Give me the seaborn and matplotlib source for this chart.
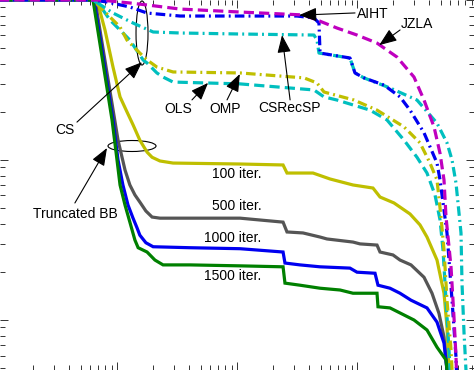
import matplotlib
matplotlib.use("Agg")
import matplotlib.pyplot as plt
from matplotlib.patches import Ellipse
from matplotlib.ticker import LogLocator, NullFormatter
import seaborn as sns

sns.set_theme(style="white")
plt.rcParams["font.family"] = ["Liberation Sans", "DejaVu Sans"]

# ---------------- data ----------------
# Truncated BB, 100 iterations (yellow solid)
bb100_x = [1, 6.81, 7.94, 9.26, 10.6, 12.1, 13.6, 15.5, 17.8, 19.6, 22.8, 29.3, 106, 242, 261, 430, 596,
           926, 1359, 1555, 2033, 2766, 3350, 3831, 4642, 5309, 5623, 5843, 5957]
bb100_y = [1, 1, 0.649, 0.381, 0.248, 0.2, 0.166, 0.133, 0.112, 0.104, 0.0986, 0.0957, 0.0944, 0.0931, 0.0829,
           0.0829, 0.0761, 0.0698, 0.0668, 0.0587, 0.0539, 0.046, 0.0393, 0.033, 0.0237, 0.0147, 0.00905,
           0.00487, 0.0042]

# Truncated BB, 500 iterations (gray solid)
bb500_x = [1, 6.56, 10.2, 11.66, 12.8, 14.1, 15.5, 17.4, 19.6, 22.8, 106, 242, 261, 355, 492, 562, 926, 1059,
           1468, 1555, 1995, 2282, 2818, 3617, 4217, 4821, 5309, 5623, 5733]
bb500_y = [1, 1, 0.133, 0.0866, 0.0698, 0.0605, 0.0546, 0.048, 0.044, 0.0433, 0.0433, 0.0409, 0.0355, 0.035,
           0.033, 0.0321, 0.0307, 0.0299, 0.0294, 0.0266, 0.0255, 0.0237, 0.0221, 0.0185, 0.0147, 0.011,
           0.00783, 0.00487, 0.0039]

# Truncated BB, 1000 iterations (blue solid)
bb1000_x = [1, 6.43, 9.26, 10.2, 11.2, 12.35, 13.6, 14.7, 15.5, 17.4, 20, 40.6, 106, 242, 251, 335, 492, 874,
            1000, 1413, 1496, 1884, 2282, 2818, 3831, 4642, 5309, 5623, 5733]
bb1000_y = [1, 1, 0.178, 0.1, 0.0698, 0.0523, 0.0433, 0.0376, 0.0339, 0.0304, 0.0287, 0.0283, 0.0279, 0.0266,
            0.0227, 0.0221, 0.0215, 0.0211, 0.0199, 0.0196, 0.0165, 0.0158, 0.0147, 0.0133, 0.0119, 0.0097,
            0.00718, 0.00487, 0.0039]

# Truncated BB, 1500 iterations (green solid)
bb1500_x = [1, 6.31, 9.09, 10, 10.6, 11.66, 12.8, 14.1, 15.0, 17.8, 20.7, 24.2, 40.6, 106, 242, 251, 335, 492,
            722, 926, 1468, 1496, 1884, 2985, 3831, 4642, 5519, 5623, 5733]
bb1500_y = [1, 1, 0.178, 0.1, 0.0698, 0.0523, 0.0409, 0.0316, 0.0283, 0.0266, 0.0237, 0.0221, 0.0221, 0.0218,
            0.0215, 0.017, 0.0165, 0.0158, 0.0154, 0.0147, 0.0147, 0.0121, 0.0119, 0.01, 0.00866, 0.00676,
            0.00562, 0.00487, 0.0039]

# JZLA (magenta dashed)
jzla_x = [1, 7.22, 12.8, 17.8, 33.5, 106, 362, 464, 681, 1000, 1468, 2154, 2985, 3617, 4385, 4921, 5309, 5519,
          6073, 6430, 6683, 6813]
jzla_y = [1, 1, 0.958, 0.931, 0.878, 0.841, 0.806, 0.75, 0.668, 0.604, 0.538, 0.44, 0.33, 0.237, 0.161, 0.11,
          0.075, 0.044, 0.0215, 0.0104, 0.00587, 0.0039]

# AIHT (blue dash-dot)
aiht_x = [1, 6.31, 8.25, 12.8, 17.8, 33.5, 316, 438, 482, 492, 874, 962, 1143, 1679, 2282, 2766, 3617, 4058,
          4642, 4921, 5623, 6194, 6683, 6813]
aiht_y = [1, 1, 0.972, 0.904, 0.829, 0.794, 0.794, 0.772, 0.718, 0.466, 0.434, 0.35, 0.326, 0.294, 0.248,
          0.205, 0.148, 0.121, 0.0957, 0.075, 0.035, 0.0133, 0.00587, 0.0039]

# CSRecSP (cyan dash-dot)
csrecsp_x = [1, 6.31, 9.26, 13.6, 20, 33.5, 106, 438, 464, 482, 874, 962, 1143, 1884, 3162, 4642, 5623, 6194,
             6683, 7356, 7499, 7798, 8094, 8254]
csrecsp_y = [1, 1, 0.829, 0.718, 0.631, 0.622, 0.613, 0.604, 0.562, 0.466, 0.434, 0.35, 0.326, 0.282, 0.237,
             0.17, 0.128, 0.1, 0.0718, 0.035, 0.017, 0.0083, 0.00487, 0.0039]

# OMP (yellow dash-dot)
omp_x = [1, 6.31, 8.74, 10.6, 12.1, 15.5, 17.8, 21.5, 29.3, 106, 362, 464, 531, 944, 1468, 2466, 3350, 4058,
         4642, 5012, 5309, 5623, 6073, 6194, 6310]
omp_y = [1, 1, 0.783, 0.678, 0.562, 0.466, 0.422, 0.381, 0.355, 0.35, 0.326, 0.303, 0.266, 0.237, 0.205,
         0.161, 0.128, 0.0957, 0.075, 0.044, 0.0274, 0.0133, 0.00649, 0.00487, 0.0039]

# OLS (cyan dashed)
ols_x = [1, 6.31, 6.81, 7.64, 8.74, 11.2, 12.8, 16.5, 17.8, 21.5, 24.2, 29.3, 106, 438, 531, 681, 1283, 1778,
         2466, 3162, 3831, 4467, 4921, 5209, 5519, 5843, 6073]
ols_y = [1, 1, 0.958, 0.866, 0.75, 0.622, 0.562, 0.422, 0.404, 0.35, 0.33, 0.307, 0.299, 0.274, 0.248, 0.237,
         0.205, 0.178, 0.133, 0.104, 0.0829, 0.0605, 0.0422, 0.0274, 0.0133, 0.00649, 0.0039]

x_limits = [1.059, 9441]
y_limits = [0.00487, 1.0]

# ---------------- styles ----------------
C_Y = "#BFBF00"
C_G = "#555555"
C_B = "#0000F0"
C_GR = "#008000"
C_M = "#BF00BF"
C_C = "#00BFBF"
LW = 2.3
DASH = (0, (3.2, 1.6))
DASHDOT = (0, (3.0, 1.3, 0.6, 1.3))

fig = plt.figure(figsize=(4.74, 3.70), dpi=100)
ax = fig.add_axes([0, 0, 1, 1])
ax.set_xscale("log")
ax.set_yscale("log")

solid_series = [(bb100_x, bb100_y, C_Y), (bb500_x, bb500_y, C_G),
                (bb1000_x, bb1000_y, C_B), (bb1500_x, bb1500_y, C_GR)]
for xs, ys, c in solid_series:
    sns.lineplot(x=xs, y=ys, ax=ax, color=c, lw=LW, sort=False, estimator=None,
                 linestyle="-", solid_joinstyle="miter")

dashed_series = [(ols_x, ols_y, C_C, DASH), (omp_x, omp_y, C_Y, DASHDOT),
                 (csrecsp_x, csrecsp_y, C_C, DASHDOT), (aiht_x, aiht_y, C_B, DASHDOT),
                 (jzla_x, jzla_y, C_M, DASH)]
for xs, ys, c, ls in dashed_series:
    sns.lineplot(x=xs, y=ys, ax=ax, color=c, lw=LW, sort=False, estimator=None, linestyle=ls)

ax.set_xlim(*x_limits)
ax.set_ylim(*y_limits)

# ticks
for axis in (ax.xaxis, ax.yaxis):
    axis.set_major_locator(LogLocator(base=10))
    axis.set_minor_locator(LogLocator(base=10, subs=[2, 3, 4, 5, 6, 7, 8, 9]))
    axis.set_major_formatter(NullFormatter())
    axis.set_minor_formatter(NullFormatter())
ax.tick_params(which="both", direction="in", top=True, right=True, bottom=True, left=True,
               color="#333333", width=0.7)
ax.tick_params(which="major", length=6)
ax.tick_params(which="minor", length=3.5)
for s in ax.spines.values():
    s.set_visible(False)
ax.set_xlabel("")
ax.set_ylabel("")

# ---------------- annotations ----------------
FS = 10
T = ax.transAxes
texts = [
    ("AIHT", 0.787, 0.962), ("JZLA", 0.880, 0.935), ("CSRecSP", 0.610, 0.708),
    ("OLS", 0.3755, 0.7054), ("OMP", 0.4747, 0.7054), ("CS", 0.137, 0.649),
    ("Truncated BB", 0.158, 0.4216), ("100 iter.", 0.500, 0.5297),
    ("500 iter.", 0.500, 0.443), ("1000 iter.", 0.4916, 0.3568), ("1500 iter.", 0.4916, 0.254),
]
for s, x, y in texts:
    ax.text(x, y, s, transform=T, ha="center", va="center", fontsize=FS, color="black")

arrows = [
    ((0.749, 0.965), (0.631, 0.959)),   # AIHT
    ((0.844, 0.919), (0.800, 0.878)),   # JZLA
    ((0.612, 0.730), (0.595, 0.905)),   # CSRecSP
    ((0.405, 0.730), (0.439, 0.776)),   # OLS
    ((0.479, 0.730), (0.506, 0.800)),   # OMP
    ((0.1624, 0.670), (0.2996, 0.832)),  # CS
    ((0.158, 0.4514), (0.2257, 0.600)),  # Truncated BB
]
for tail, head in arrows:
    ax.annotate("", xy=head, xycoords=T, xytext=tail, textcoords=T,
                arrowprops=dict(arrowstyle="-|>,head_length=0.9,head_width=0.35",
                                color="black", lw=0.8, shrinkA=0, shrinkB=0))

ax.add_patch(Ellipse((0.2996, 0.9108), 0.0253, 0.173, transform=T, fill=False,
                     edgecolor="black", lw=0.8))
ax.add_patch(Ellipse((0.2785, 0.6054), 0.1013, 0.0297, transform=T, fill=False,
                     edgecolor="black", lw=0.8))

fig.savefig("out.png", dpi=100)
